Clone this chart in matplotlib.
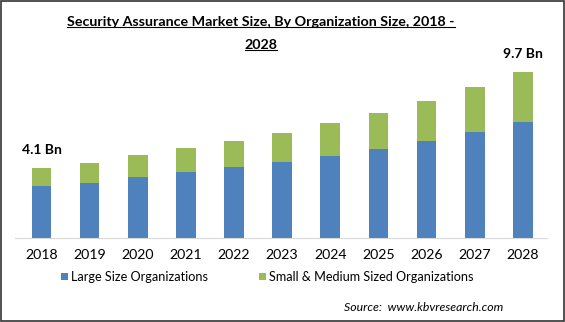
import numpy as np
import matplotlib
matplotlib.use("Agg")
import matplotlib.pyplot as plt
from matplotlib.lines import Line2D
from matplotlib.patches import Rectangle

# data (USD Bn)
years = ["2018", "2019", "2020", "2021", "2022", "2023", "2024", "2025", "2026", "2027", "2028"]
large = [3.05, 3.22, 3.57, 3.87, 4.16, 4.45, 4.80, 5.21, 5.68, 6.21, 6.80]
small = [1.05, 1.17, 1.29, 1.41, 1.52, 1.70, 1.93, 2.11, 2.34, 2.64, 2.93]
series_names = ["Large Size Organizations", "Small & Medium Sized Organizations"]
labels = {0: "4.1 Bn", 10: "9.7 Bn"}

blue = "#4f81bd"
green = "#9bbb59"
font = "Lato"

fig = plt.figure(figsize=(5.65, 3.22), dpi=100)
ax = fig.add_axes([0.0265, 0.261, 0.9415, 0.553])

x = np.arange(len(years))
totals = np.array(large) + np.array(small)
b1 = ax.bar(x, large, width=0.41, color=blue, label=series_names[0])
b2 = ax.bar(x, small, width=0.41, bottom=large, color=green, label=series_names[1])

for i, txt in labels.items():
    ax.annotate(txt, (x[i], totals[i]), xytext=(0, 18), textcoords="offset pixels",
                ha="center", va="center", fontsize=10, fontweight="bold", family=font)

ax.set_xlim(-0.55, 10.5)
ax.set_ylim(0, 10.43)
for s in ["top", "right", "left"]:
    ax.spines[s].set_visible(False)
ax.spines["bottom"].set_color("#d9d9d9")
ax.set_yticks([])
ax.set_xticks(x)
ax.set_xticklabels(years, fontsize=10.2, family=font)
ax.tick_params(axis="x", length=0, pad=8)

leg = fig.legend(handles=[b1, b2], loc="center", bbox_to_anchor=(0.473, 0.14), ncol=2,
                 frameon=False, prop={"family": font, "size": 9.1},
                 handlelength=0.55, handleheight=0.55, handletextpad=0.25, columnspacing=4.0)

fig.text(0.89, 0.046, "Source:  www.kbvresearch.com", ha="right", va="center",
         fontsize=8.8, style="italic", family=font)

# title, two lines, underlined by hand
t1 = fig.text(0.462, 0.932, "Security Assurance Market Size, By Organization Size, 2018 -",
              ha="center", va="center", fontsize=10.3, fontweight="bold", family=font)
t2 = fig.text(0.462, 0.86, "2028", ha="center", va="center", fontsize=10.3,
              fontweight="bold", family=font)
fig.canvas.draw()
r = fig.canvas.get_renderer()
inv = fig.transFigure.inverted()
for t in (t1, t2):
    bb = t.get_window_extent(r)
    (x0, y0), (x1, _) = inv.transform([(bb.x0, bb.y0), (bb.x1, bb.y1)])
    fig.add_artist(Line2D([x0, x1], [y0 + 0.004, y0 + 0.004], color="black", lw=0.8,
                          transform=fig.transFigure))

fig.add_artist(Rectangle((0.001, 0.002), 0.997, 0.995, fill=False, edgecolor="#333333",
                         lw=1.2, transform=fig.transFigure))

fig.savefig("out.png", dpi=100)
